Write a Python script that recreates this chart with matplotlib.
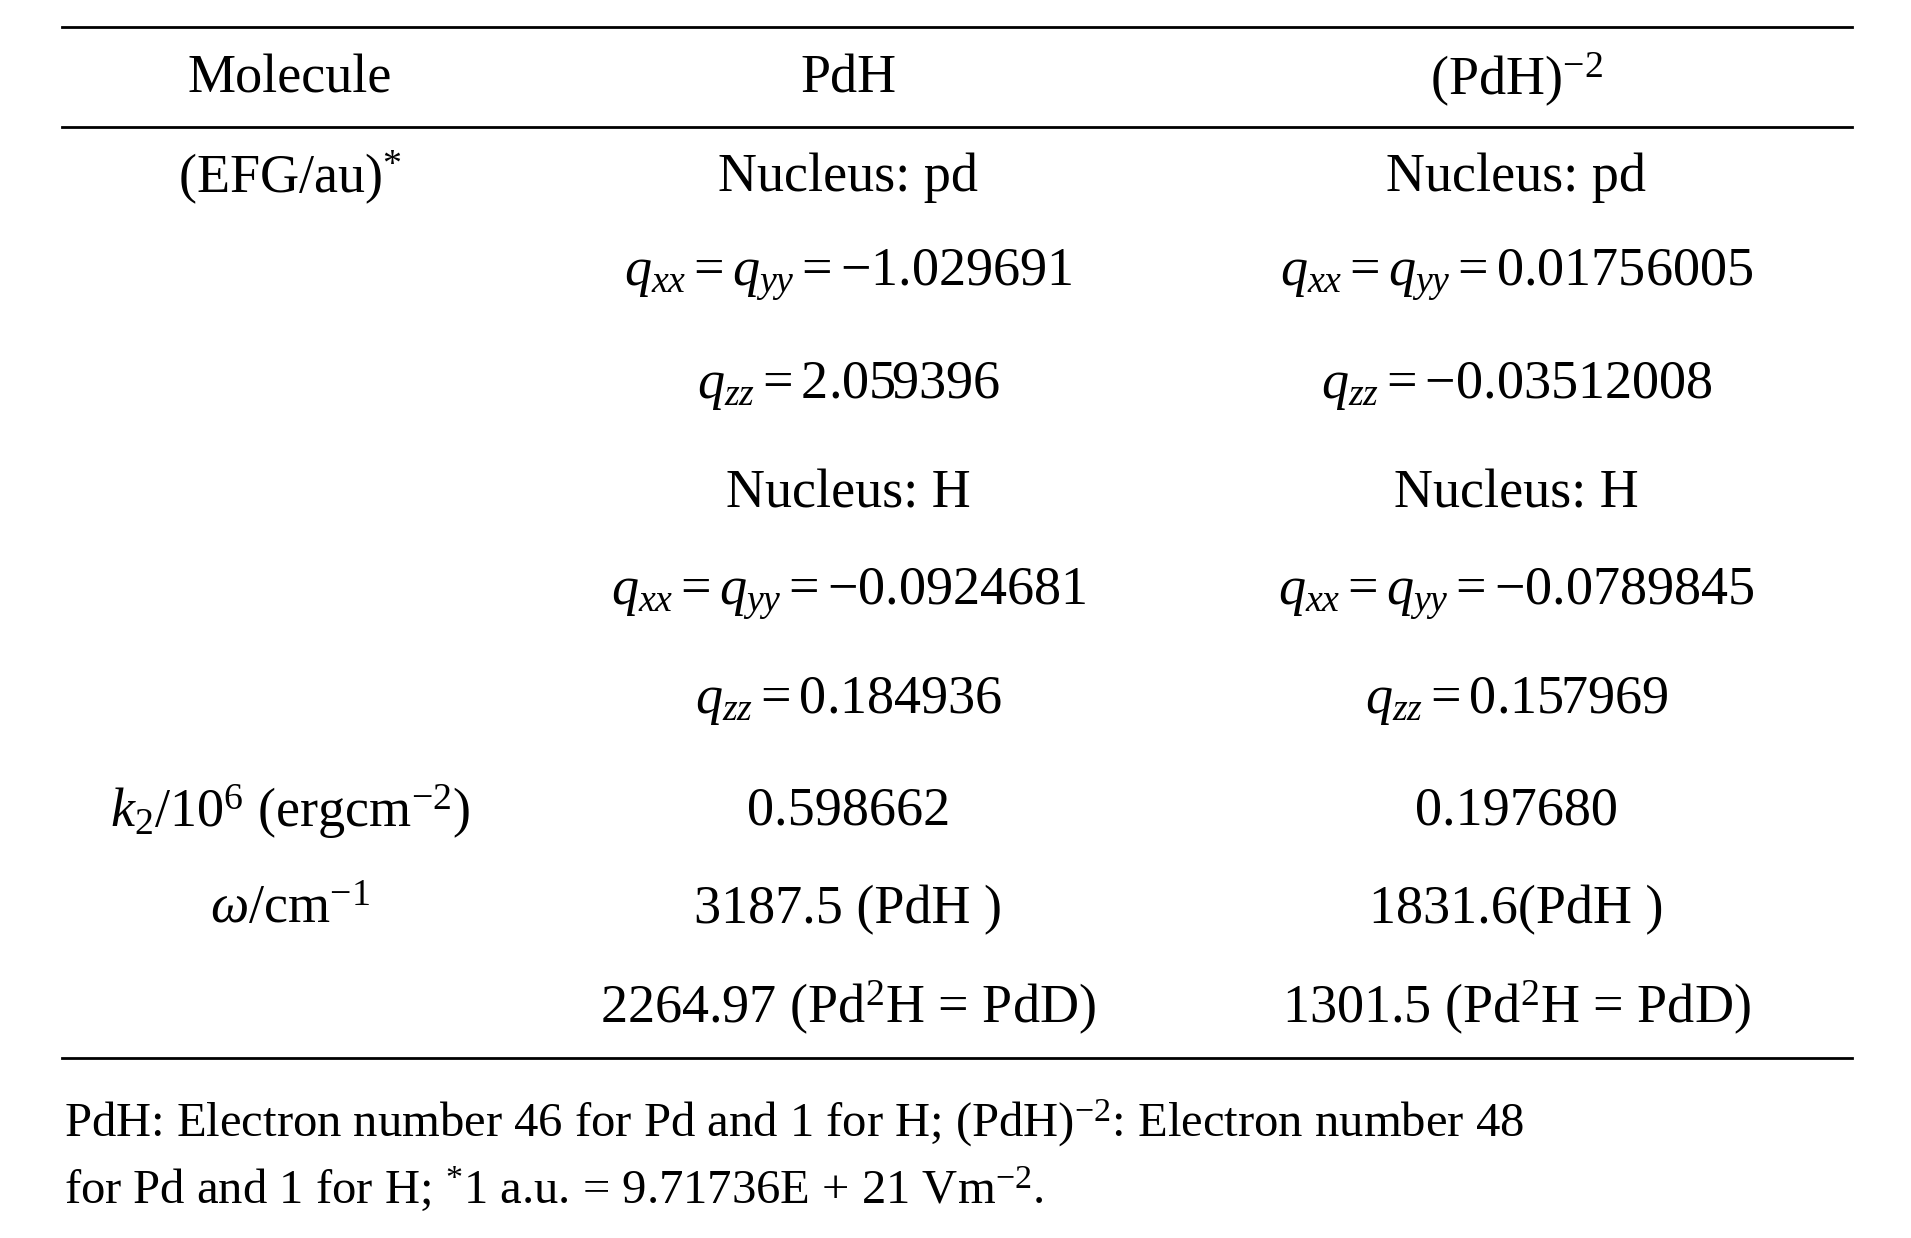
import matplotlib
matplotlib.use("Agg")
import matplotlib.pyplot as plt

plt.rcParams['font.family'] = ['Liberation Serif', 'DejaVu Serif']
plt.rcParams['mathtext.fontset'] = 'custom'
plt.rcParams['mathtext.rm'] = 'Liberation Serif'
plt.rcParams['mathtext.it'] = 'Liberation Serif:italic'

W, H = 1550, 1010
headers = ["Molecule", "PdH", r"(PdH)$^{-2}$"]
col_x = [235, 688, 1230]
row_y = [145, 225, 315, 403, 485, 572, 662, 742, 822]
col0 = [r"(EFG/au)$^{*}$", "", "", "", "", "", r"$k_2$/10$^6$ (ergcm$^{-2}$)", r"$\omega$/cm$^{-1}$", ""]
col1 = ["Nucleus: pd", r"$q_{xx}=q_{yy}=-1.029691$", r"$q_{zz}=2.059396$", "Nucleus: H",
        r"$q_{xx}=q_{yy}=-0.0924681$", r"$q_{zz}=0.184936$", "0.598662", "3187.5 (PdH )",
        r"2264.97 (Pd$^2$H = PdD)"]
col2 = ["Nucleus: pd", r"$q_{xx}=q_{yy}=0.01756005$", r"$q_{zz}=-0.03512008$", "Nucleus: H",
        r"$q_{xx}=q_{yy}=-0.0789845$", r"$q_{zz}=0.157969$", "0.197680", "1831.6(PdH )",
        r"1301.5 (Pd$^2$H = PdD)"]
notes = [r"PdH: Electron number 46 for Pd and 1 for H; (PdH)$^{-2}$: Electron number 48",
         r"for Pd and 1 for H; $^{*}$1 a.u. = 9.71736E + 21 Vm$^{-2}$."]

fig = plt.figure(figsize=(19.11, 12.38), dpi=100)
ax = fig.add_axes([0, 0, 1, 1])
ax.set_xlim(0, W); ax.set_ylim(H, 0); ax.axis('off')
fs = 39
for y in (22, 104, 863):
    ax.plot([50, 1502], [y, y], color='black', lw=2)
for x, t in zip(col_x, headers):
    ax.text(x, 65, t, ha='center', va='center', fontsize=fs)
for col, x in zip([col0, col1, col2], col_x):
    for t, y in zip(col, row_y):
        if t:
            ax.text(x, y, t, ha='center', va='center', fontsize=fs)
ax.text(52, 916, notes[0], ha='left', va='center', fontsize=35)
ax.text(52, 970, notes[1], ha='left', va='center', fontsize=35)
fig.savefig("out.png", dpi=100, facecolor='white')
